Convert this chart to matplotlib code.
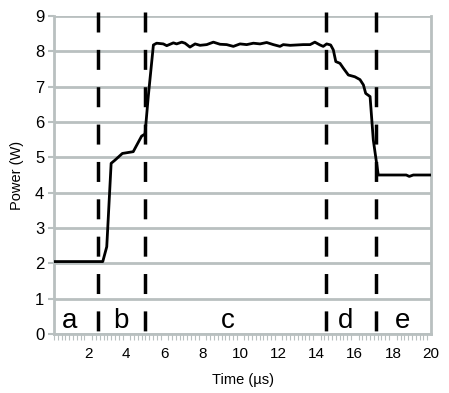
import matplotlib
matplotlib.use("Agg")
import matplotlib.pyplot as plt
import numpy as np

plt.rcParams['font.family'] = ['Liberation Sans', 'DejaVu Sans']
plt.rcParams['lines.scale_dashes'] = False

# power trace
time = [0.2, 1.0, 2.0, 2.76, 2.97, 3.2, 3.4, 3.79, 4.36, 4.6, 4.8, 4.98, 5.15, 5.42,
        5.59, 5.94, 6.12, 6.47, 6.64, 6.91, 7.08, 7.34, 7.61, 7.87, 8.22, 8.57,
        8.92, 9.27, 9.62, 9.97, 10.32, 10.67, 11.02, 11.37, 11.72, 12.07, 12.24,
        12.6, 12.95, 13.29, 13.65, 13.9, 14.17, 14.34, 14.52, 14.73, 14.87, 15.0,
        15.22, 15.4, 15.66, 16.0, 16.27, 16.45, 16.57, 16.8, 16.97, 17.23, 18.0,
        18.7, 18.86, 19.07, 20.0]
power = [2.05, 2.05, 2.05, 2.05, 2.47, 4.83, 4.92, 5.11, 5.16, 5.4, 5.6, 5.66, 6.72, 8.18,
         8.23, 8.21, 8.16, 8.24, 8.21, 8.26, 8.23, 8.12, 8.21, 8.17, 8.19, 8.26,
         8.2, 8.19, 8.14, 8.21, 8.19, 8.23, 8.21, 8.25, 8.19, 8.14, 8.19,
         8.17, 8.18, 8.19, 8.19, 8.26, 8.18, 8.14, 8.21, 8.18, 8.04, 7.71,
         7.66, 7.52, 7.33, 7.28, 7.2, 7.05, 6.81, 6.72, 5.49, 4.5, 4.5,
         4.5, 4.46, 4.5, 4.5]

boundaries = [2.5, 5.0, 14.5, 17.1]
region_labels = ['a', 'b', 'c', 'd', 'e']
region_x = [1.0, 3.7, 9.35, 15.5, 18.5]

grey = '#b9c0c0'

fig = plt.figure(figsize=(4.49, 3.93), dpi=100)
ax = fig.add_axes([0.1203, 0.1501, 0.8396, 0.8092])

ax.plot(time, power, color='black', lw=2.0, zorder=3)

for b in boundaries:
    ax.plot([b, b], [9.11, -0.31], color='black', lw=2.5, clip_on=False,
            dashes=(14.4, 12.5), zorder=4)

for lab, x in zip(region_labels, region_x):
    ax.text(x, 0.36, lab, fontsize=20, ha='center', va='center')

ax.set_xlim(0.2, 20)
ax.set_ylim(0, 9)
ax.set_xticks(np.arange(2, 21, 2))
ax.set_xticks(np.arange(0.2, 20.01, 0.2), minor=True)
ax.set_yticks(np.arange(0, 10, 1))
ax.tick_params(axis='x', which='major', length=0, labelsize=11, pad=9)
ax.tick_params(axis='x', which='minor', length=4, color=grey, width=0.8)
ax.tick_params(axis='y', which='major', length=4, color=grey, width=1.5, labelsize=12, pad=3)

ax.grid(axis='y', color=grey, lw=2)
ax.set_axisbelow(True)
for side in ['left', 'bottom', 'right']:
    ax.spines[side].set_color(grey)
    ax.spines[side].set_linewidth(2)
ax.spines['top'].set_visible(False)

ax.set_xlabel('Time (µs)', fontsize=10.5, labelpad=9)
ax.set_ylabel('Power (W)', fontsize=10.5, labelpad=8)

fig.savefig('out.png', dpi=100)
